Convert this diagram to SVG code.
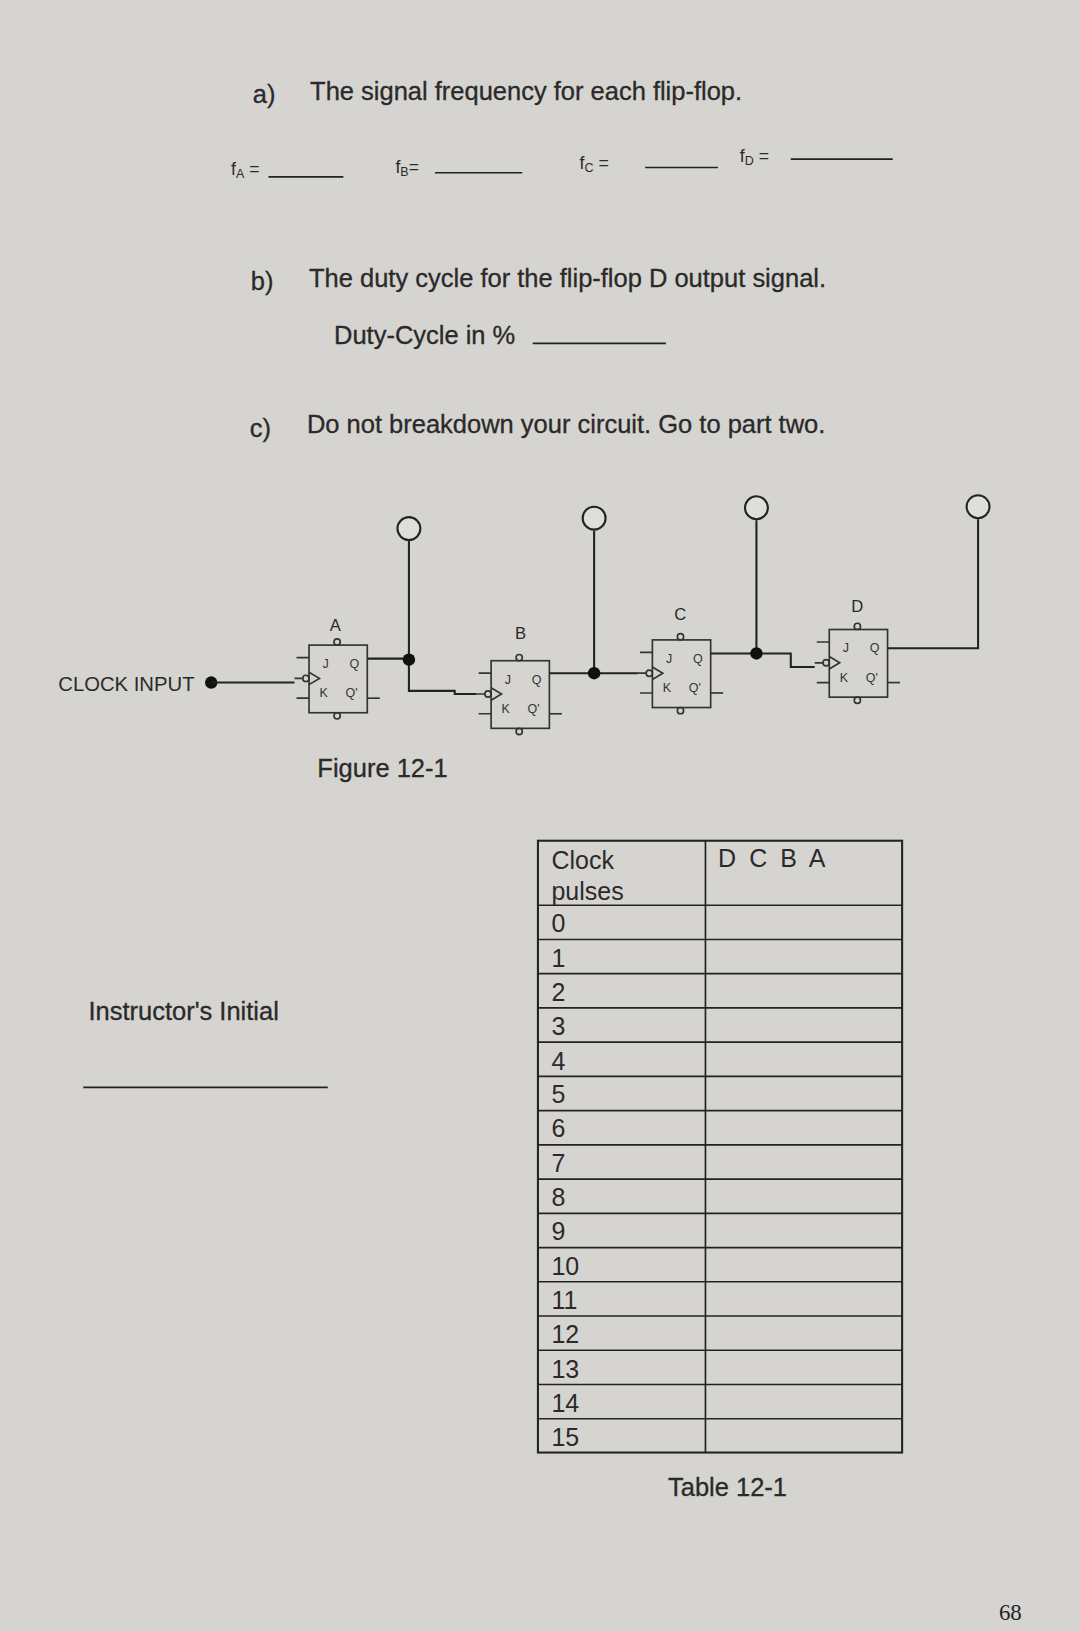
<svg xmlns="http://www.w3.org/2000/svg" width="1080" height="1631" viewBox="0 0 1080 1631">
<style>
.t{font-family:"Liberation Sans",Arial,sans-serif;fill:#2a2a2a}
.m{font-size:24.5px;stroke:#2a2a2a;stroke-width:0.3}
.w{stroke:#222;stroke-width:2;fill:none}
.ff{fill:none;stroke:#333;stroke-width:1.6}
.s{font-family:"Liberation Sans",Arial,sans-serif;font-size:12px;fill:#333}
.g{stroke:#222;stroke-width:1.6}
</style>
<defs>
<g id="ffsym">
<rect class="ff" x="0" y="0" width="56" height="65"/>
<path class="ff" d="M-12 12H0M-12 51H0M-14 32H-6M0 26L10 32L0 38"/>
<circle class="ff" cx="-3" cy="32" r="3" fill="#d6d4d0"/>
<circle class="ff" cx="27" cy="-3" r="3"/>
<circle class="ff" cx="27" cy="68" r="3"/>
<text class="s" x="13" y="22">J</text><text class="s" x="39" y="22">Q</text>
<text class="s" x="10" y="50">K</text><text class="s" x="35" y="50">Q'</text>
<path class="ff" d="M56 51H68"/>
</g>
</defs>
<rect width="1080" height="1631" fill="#d6d4d0"/>
<g transform="scale(1.0405)">
<g id="text">
<text class="t m" x="243" y="99">a)</text>
<text class="t m" x="298" y="96">The signal frequency for each flip-flop.</text>
<text class="t" x="222" y="168" font-size="17">f<tspan font-size="12" dy="3">A</tspan><tspan dy="-3"> =</tspan></text>
<text class="t" x="380" y="166" font-size="17">f<tspan font-size="12" dy="3">B</tspan><tspan dy="-3">=</tspan></text>
<text class="t" x="557" y="162" font-size="17">f<tspan font-size="12" dy="3">C</tspan><tspan dy="-3"> =</tspan></text>
<text class="t" x="711" y="156" font-size="17">f<tspan font-size="12" dy="3">D</tspan><tspan dy="-3"> =</tspan></text>
<path class="g" d="M258 170H330M418 166H502M620 161H690M760 153H858"/>
<text class="t m" x="241" y="279">b)</text>
<text class="t m" x="297" y="276">The duty cycle for the flip-flop D output signal.</text>
<text class="t m" x="321" y="331">Duty-Cycle in %</text>
<path class="g" d="M512 330H640"/>
<text class="t m" x="240" y="420">c)</text>
<text class="t m" x="295" y="416">Do not breakdown your circuit.  Go to part two.</text>
<text class="t m" x="305" y="747">Figure 12-1</text>
<text class="t m" x="85" y="980">Instructor's Initial</text>
<path class="g" d="M80 1045H315"/>
<text x="960" y="1557" font-size="22" font-family="Liberation Serif,serif" fill="#222">68</text>
</g>
<g id="ffA"><use href="#ffsym" x="297" y="620"/><text class="t" x="317" y="606" font-size="16">A</text></g>
<g id="ffB"><use href="#ffsym" x="472" y="635"/><text class="t" x="495" y="614" font-size="16">B</text></g>
<g id="ffC"><use href="#ffsym" x="627" y="615"/><text class="t" x="648" y="596" font-size="16">C</text></g>
<g id="ffD"><use href="#ffsym" x="797" y="605"/><text class="t" x="818" y="588" font-size="16">D</text></g>
<g id="connectors">
<text class="t" x="56" y="664" font-size="19.5">CLOCK INPUT</text>
<circle cx="203" cy="656" r="6" fill="#111"/>
<path class="w" d="M203 656H283"/>
<path class="w" d="M353 633H393V664H437V667H458M393 633V520"/>
<circle cx="393" cy="634" r="6" fill="#111"/>
<circle cx="393" cy="508" r="11" fill="#e0dedb" stroke="#222" stroke-width="2"/>
<path class="w" d="M528 647H613M571 647V510"/>
<circle cx="571" cy="647" r="6" fill="#111"/>
<circle cx="571" cy="498" r="11" fill="#e0dedb" stroke="#222" stroke-width="2"/>
<path class="w" d="M683 628H760V641H783M727 628V500"/>
<circle cx="727" cy="628" r="6" fill="#111"/>
<circle cx="727" cy="488" r="11" fill="#e0dedb" stroke="#222" stroke-width="2"/>
<path class="w" d="M853 623H940V499"/>
<circle cx="940" cy="487" r="11" fill="#e0dedb" stroke="#222" stroke-width="2"/>
</g>
<g id="table">
<rect x="517" y="808" width="350" height="588" fill="none" stroke="#222" stroke-width="2"/>
<path class="g" d="M678 808V1396M517 870H867M517 902.9H867M517 935.8H867M517 968.7H867M517 1001.6H867M517 1034.5H867M517 1067.4H867M517 1100.3H867M517 1133.2H867M517 1166.1H867M517 1199H867M517 1231.9H867M517 1264.8H867M517 1297.7H867M517 1330.6H867M517 1363.5H867"/>
<text class="t" x="530" y="835" font-size="24">Clock</text>
<text class="t" x="530" y="865" font-size="24">pulses</text>
<text class="t" x="690" y="833" font-size="24" letter-spacing="3">D C B A</text>
<g class="t" font-size="24">
<text x="530" y="896">0</text><text x="530" y="929">1</text><text x="530" y="962">2</text><text x="530" y="995">3</text>
<text x="530" y="1028">4</text><text x="530" y="1060">5</text><text x="530" y="1093">6</text><text x="530" y="1126">7</text>
<text x="530" y="1159">8</text><text x="530" y="1192">9</text><text x="530" y="1225">10</text><text x="530" y="1258">11</text>
<text x="530" y="1291">12</text><text x="530" y="1324">13</text><text x="530" y="1357">14</text><text x="530" y="1390">15</text>
</g>
<text class="t m" x="642" y="1438">Table 12-1</text>
</g>
</g>
</svg>
